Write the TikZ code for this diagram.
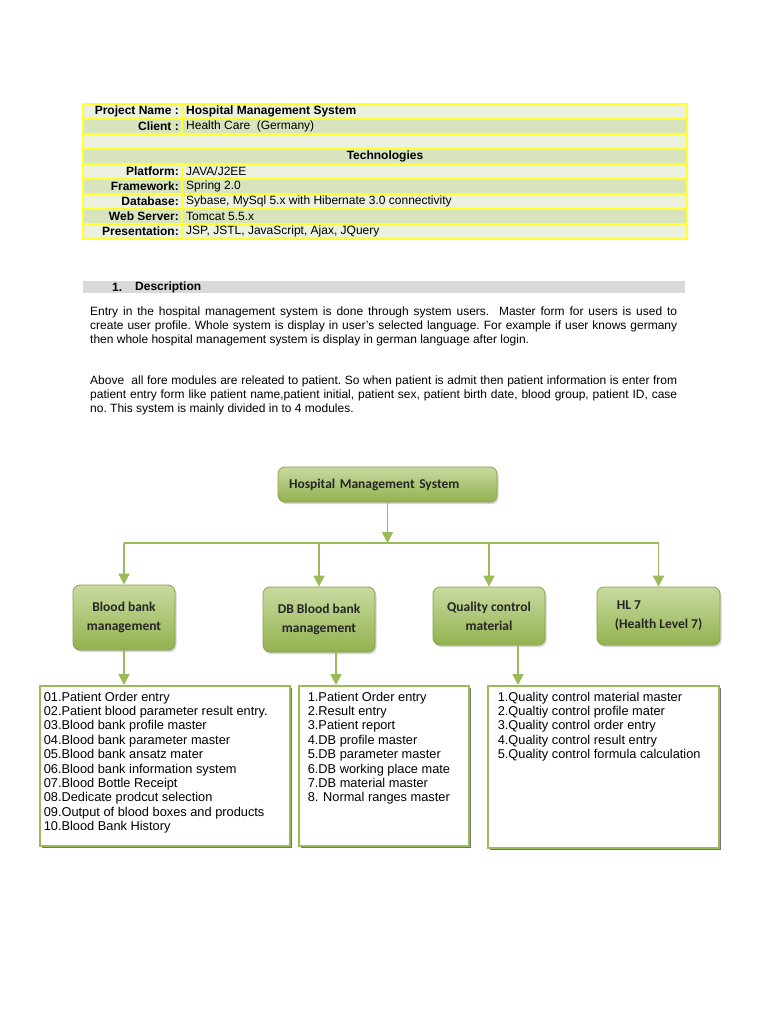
\documentclass[tikz,border=0pt]{standalone}
\usepackage{fontspec}
\setmainfont{Liberation Sans}
\newfontfamily\cbfont{Carlito}
\usetikzlibrary{arrows.meta,positioning,shadows,calc}

\definecolor{rowlight}{HTML}{EBF1DE}
\definecolor{rowdark}{HTML}{D7E4BD}
\definecolor{gridyellow}{HTML}{FFFF33}
\definecolor{bargray}{HTML}{D9D9D9}
\definecolor{modtop}{HTML}{C8DAA0}
\definecolor{modbot}{HTML}{93B24F}
\definecolor{modedge}{HTML}{86A447}
\definecolor{linkgreen}{HTML}{9BBB59}

\tikzset{
  tbltext/.style={font=\fontsize{12}{13}\selectfont, inner sep=0pt},
  tblbold/.style={font=\fontsize{12}{13}\selectfont\bfseries, inner sep=0pt},
  tbllabel/.style={tblbold, anchor=east},
  para/.style={font=\fontsize{12}{14}\selectfont\frenchspacing, inner sep=0pt, anchor=north west,
    text width=587pt, align=justify},
  module/.style={draw=modedge, line width=0.8pt, rounded corners=7pt,
    top color=modtop, bottom color=modbot,
    drop shadow={shadow xshift=1.5pt, shadow yshift=-2pt, opacity=0.35},
    font=\cbfont\fontsize{13.5}{19}\selectfont\bfseries, text=black!85, align=center},
  listbox/.style={draw=linkgreen, line width=1.6pt, fill=white, anchor=north west,
    inner xsep=4pt, inner ysep=6pt,
    drop shadow={shadow xshift=2pt, shadow yshift=-2pt, fill=black!55, opacity=1},
    font=\fontsize{12.8}{14.4}\selectfont},
  link/.style={draw=linkgreen, line width=1.8pt},
  tip/.style={-{Triangle[length=11pt, width=11pt]}},
}

\begin{document}
\begin{tikzpicture}[x=1pt, y=-1pt]
\useasboundingbox[fill=white] (0,0) rectangle (768,1024);

% project table
\foreach \i in {0,...,8}{
  \pgfmathsetmacro\rowtop{104+15*\i}
  \ifodd\i \def\shade{rowdark}\else\def\shade{rowlight}\fi
  \fill[\shade] (83,\rowtop) rectangle (687,\rowtop+15);
}
\begin{scope}[gridyellow, line width=1.6pt]
  \draw (83,104) rectangle (687,239);
  \foreach \i in {1,...,8}
    \draw (83,104+15*\i) -- (687,104+15*\i);
  \draw (182,104) -- (182,134);
  \draw (182,164) -- (182,239);
\end{scope}

\node[tbllabel] (lblname) at (179,111.5) {Project Name :};
\node[tblbold, anchor=west] (valname) at (186,111.5) {Hospital Management System};
\node[tbllabel] (lblclient) at (179,126.5) {Client :};
\node[tbltext, anchor=west] (valclient) at (186,126.5) {Health Care\ \ (Germany)};
\node[tblbold] (tech) at (385,156.5) {Technologies};
\foreach \i/\lbl/\val in {4/Platform:/{JAVA/J2EE}, 5/Framework:/{Spring 2.0},
    6/Database:/{Sybase, MySql 5.x with Hibernate 3.0 connectivity},
    7/Web Server:/{Tomcat 5.5.x}, 8/Presentation:/{JSP, JSTL, JavaScript, Ajax, JQuery}}{
  \node[tbllabel] (lbl\i) at (179,111.5+15*\i) {\lbl};
  \node[tbltext, anchor=west] (val\i) at (186,111.5+15*\i) {\val};
}

% description
\fill[bargray] (83,281) rectangle (685,293);
\node[tblbold, anchor=west] (secnum) at (112,287) {1.};
\node[tblbold, anchor=west] (sectitle) at (135,287) {Description};

\node[para] (para1) at (90,307) {Entry in the hospital management system is done through system users.\ \ Master form for users is used to\linebreak create user profile. Whole system is display in user's selected language. For example if user knows germany\linebreak then whole hospital management system is display in german language after login.};
\node[para] (para2) at (90,376) {Above\ \ all fore modules are releated to patient. So when patient is admit then patient information is enter from\linebreak patient entry form like patient name,patient initial, patient sex, patient birth date, blood group, patient ID, case\linebreak no. This system is mainly divided in to 4 modules.};

% modules
\node[module, text width=197pt, align=left, inner xsep=11pt, minimum height=35pt] (hms) at (387.5,484.5) {Hospital Management System};
\node[module, minimum width=102pt, minimum height=65pt] (bbm) at (124,617.5) {Blood bank\\management};
\node[module, minimum width=112pt, minimum height=65pt] (dbm) at (319,619.5) {DB Blood bank\\management};
\node[module, minimum width=112pt, minimum height=58pt] (qcm) at (489,616) {Quality control\\material};
\node[module, minimum width=123pt, minimum height=58pt, align=left] (hl7) at (658.5,616) {\hspace{2pt}HL 7\\(Health Level 7)};

% lists
\node[listbox] (list1) at (39,685) {\parbox[t][148pt][t]{242pt}{01.Patient Order entry\\
02.Patient blood parameter result entry.\\
03.Blood bank profile master\\
04.Blood bank parameter master\\
05.Blood bank ansatz mater\\
06.Blood bank information system\\
07.Blood Bottle Receipt\\
08.Dedicate prodcut selection\\
09.Output of blood boxes and products\\
10.Blood Bank History}};
\node[listbox] (list2) at (298,685) {\parbox[t][148pt][t]{162pt}{\hspace*{5pt}1.Patient Order entry\\
\hspace*{5pt}2.Result entry\\
\hspace*{5pt}3.Patient report\\
\hspace*{5pt}4.DB profile master\\
\hspace*{5pt}5.DB parameter master\\
\hspace*{5pt}6.DB working place mate\\
\hspace*{5pt}7.DB material master\\
\hspace*{5pt}8. Normal ranges master}};
\node[listbox] (list3) at (487,685) {\parbox[t][150pt][t]{223pt}{\hspace*{6pt}1.Quality control material master\\
\hspace*{6pt}2.Qualtiy control profile mater\\
\hspace*{6pt}3.Quality control order entry\\
\hspace*{6pt}4.Quality control result entry\\
\hspace*{6pt}5.Quality control formula calculation}};

% connectors
\coordinate (busL) at (bbm.north |- 0,543);
\coordinate (busR) at (hl7.north |- 0,543);
\draw[link, tip] (hms.south) -- (hms.south |- busL);
\draw[link] (busL) -- (busR);
\foreach \m in {bbm,dbm,qcm,hl7}
  \draw[link, tip] (\m.north |- busL) -- (\m.north);
\draw[link, tip] (bbm.south) -- (bbm.south |- list1.north);
\draw[link, tip] ([xshift=17pt]dbm.south) -- ([xshift=17pt]dbm.south |- list2.north);
\draw[link, tip] ([xshift=29pt]qcm.south) -- ([xshift=29pt]qcm.south |- list3.north);
\end{tikzpicture}
\end{document}
